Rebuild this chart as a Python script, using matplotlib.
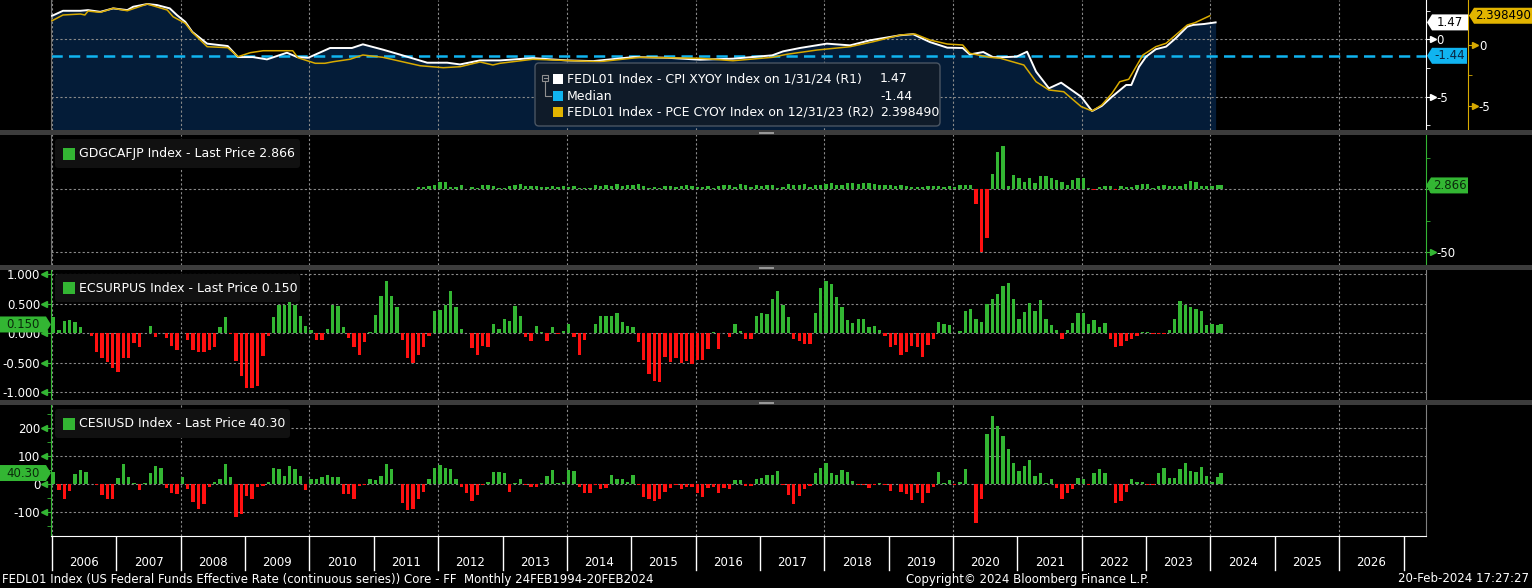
import matplotlib
matplotlib.use('Agg')
import matplotlib.pyplot as plt
import matplotlib.transforms as mtransforms
from matplotlib.patches import Rectangle, Polygon, FancyBboxPatch
from matplotlib.lines import Line2D

plt.rcParams['font.family'] = ['DejaVu Sans']

W, H = 1532, 588

# --- top panel: FEDL01 minus CPI (R1) and minus PCE (R2), decimal years ---
cpi_t = [2006.00, 2006.17, 2006.44, 2006.56, 2006.75, 2006.95, 2007.17, 2007.26, 2007.48, 2007.63,
         2007.83, 2007.94, 2008.07, 2008.18, 2008.41, 2008.73, 2008.89, 2009.12, 2009.34, 2009.65,
         2009.81, 2009.98, 2010.32, 2010.66, 2010.83, 2011.14, 2011.41, 2011.83, 2012.14, 2012.34,
         2012.65, 2012.96, 2013.47, 2014.00, 2014.41, 2015.03, 2015.56, 2016.07, 2016.58, 2017.19,
         2017.36, 2017.62, 2018.04, 2018.40, 2018.71, 2019.18, 2019.38, 2019.64, 2019.91, 2020.15,
         2020.26, 2020.47, 2020.62, 2020.73, 2020.99, 2021.15, 2021.29, 2021.49, 2021.68, 2021.99,
         2022.16, 2022.31, 2022.47, 2022.69, 2022.77, 2022.89, 2023.00, 2023.15, 2023.31, 2023.46,
         2023.64, 2023.73, 2023.90, 2024.08]
cpi_v = [2.04, 2.48, 2.48, 2.54, 2.39, 2.69, 2.54, 2.83, 3.07, 2.98,
         2.69, 2.11, 1.52, 0.64, -0.38, -0.59, -1.55, -1.55, -1.75, -1.17,
         -1.55, -1.61, -0.76, -0.76, -0.44, -0.90, -1.34, -2.04, -2.04, -2.19,
         -1.84, -1.84, -1.64, -1.84, -1.90, -1.55, -1.61, -1.78, -1.69, -1.40,
         -1.05, -0.76, -0.38, -0.53, -0.09, 0.35, 0.44, -0.24, -0.73, -0.76,
         -1.32, -1.11, -1.55, -1.57, -1.51, -1.08, -2.82, -4.27, -3.78, -5.00,
         -6.25, -5.81, -5.00, -3.98, -3.98, -2.39, -1.51, -0.87, -0.64, 0.09,
         1.10, 1.25, 1.33, 1.47]
pce_t = [2006.00, 2006.17, 2006.44, 2006.51, 2006.56, 2006.75, 2006.95, 2007.17, 2007.48, 2007.79,
         2007.88, 2008.07, 2008.18, 2008.41, 2008.73, 2008.89, 2009.08, 2009.28, 2009.50, 2009.74,
         2009.82, 2010.09, 2010.24, 2010.37, 2010.63, 2010.83, 2011.14, 2011.72, 2012.08, 2012.34,
         2012.65, 2012.85, 2012.96, 2013.47, 2014.51, 2015.14, 2016.07, 2016.58, 2017.19, 2017.42,
         2017.89, 2018.40, 2018.76, 2019.18, 2019.41, 2019.64, 2019.91, 2020.15, 2020.26, 2020.57,
         2020.73, 2021.10, 2021.29, 2021.49, 2021.72, 2021.99, 2022.16, 2022.31, 2022.47, 2022.59,
         2022.73, 2022.95, 2023.15, 2023.31, 2023.64, 2023.76, 2023.99]
pce_v = [1.99, 2.46, 2.54, 2.46, 2.78, 2.68, 3.01, 2.81, 3.36, 2.87,
         2.32, 1.78, 1.04, -0.14, -0.22, -0.96, -0.63, -0.47, -0.47, -0.47,
         -1.04, -1.50, -1.50, -1.37, -1.17, -0.82, -1.01, -1.70, -1.86, -1.78,
         -1.39, -1.64, -1.50, -1.17, -1.37, -1.01, -1.09, -1.29, -1.01, -0.76,
         -0.41, -0.14, 0.27, 0.82, 0.90, 0.41, 0.08, 0.00, -0.68, -1.01,
         -1.08, -1.64, -3.01, -3.69, -3.83, -5.05, -5.41, -4.92, -3.96, -3.01,
         -2.81, -0.82, -0.14, 0.14, 1.64, 1.83, 2.398]
cpi_median = -1.44
cpi_last = 1.47
pce_last = 2.398490

# --- monthly bars: first bar is end of Dec 2005, last one is 20 Feb 2024 ---
bar_t = [2006 + i / 12 for i in range(218)] + [2024 + 50 / 366]

jp_first = 68  # GDGCAFJP starts Aug 2011
jp_gdp = [1.3, 1.9, 2.6, 3.2, 5.3, 5.3, 1.9, 1.3, 3.2, 0.3, 1.3, 1.1, 3.2, 3.2, 2.4,
          0.8, 0.8, 2.1, 3.4, 4.0, 2.1, 2.1, 2.1, 1.3, 1.6,
          2.1, 1.6, 2.1, 1.3, 2.1, 0.8, 0.8, 0.8, 2.9, 2.1,
          2.9, 2.1, 3.7, 2.1, 2.9, 2.9, 4.0, 2.1, 1.1, 1.6,
          0.8, 2.1, 2.1, 1.3, 2.1, 2.9, 2.1, 1.3, 1.3, 2.1,
          0.8, 2.4, 2.9, 2.9, 1.3, 3.7, 2.9, 1.6, 2.9, 2.1,
          2.9, 2.9, 1.1, 1.6, 3.7, 2.9, 2.9, 3.7, 1.6, 2.9,
          2.9, 3.7, 4.8, 2.9, 2.9, 4.8, 4.8, 4.2, 4.8, 4.8,
          4.0, 2.9, 2.9, 2.9, 2.1, 2.9, 2.1, 1.3, 1.6, 1.3,
          2.1, 2.1, 2.1, 1.3, 2.1, 1.6, 2.9, 2.9,
          3.2,
          -11.9, -50.3, -38.6, 11.9, 29.6, 34.1, 2.6, 11.1, 9.0, 5.8,
          9.0, 4.5, 10.3, 10.3, 9.0, 7.1, 5.8, 3.2, 7.1, 8.5,
          8.5, 0.5, -0.5, 1.3, 2.4, 2.4, -0.5, 2.4, 1.3, 1.9,
          3.2, 4.0, 4.0, 1.1, 2.6, 3.2, 2.4, 2.4, 2.4, 4.0,
          6.6, 5.3, 2.4, 2.4, 2.6, 3.2, 2.866]

ecsurpus = [0.27, 0.06, 0.21, 0.23, 0.19, 0.10, 0.01, -0.04, -0.31, -0.42,
            -0.49, -0.59, -0.65, -0.42, -0.41, -0.16, -0.23, 0.00, 0.12, -0.07,
            0.00, -0.08, -0.21, -0.28, 0.00, -0.12, -0.28, -0.32, -0.32, -0.29,
            -0.23, 0.11, 0.27, -0.01, -0.47, -0.72, -0.92, -0.92, -0.89, -0.38,
            -0.04, 0.28, 0.48, 0.48, 0.71, 0.48, 0.29, 0.12, 0.06, -0.11,
            -0.12, 0.07, 0.48, 0.47, 0.11, -0.08, -0.24, -0.36, -0.14, 0.03,
            0.31, 0.63, 0.89, 0.63, 0.45, -0.11, -0.41, -0.51, -0.36, -0.24,
            -0.04, 0.38, 0.40, 0.48, 0.71, 0.45, 0.08, 0.00, -0.25, -0.36,
            -0.21, -0.23, 0.16, 0.07,
            0.24, 0.21, 0.47, 0.29, -0.07, -0.13, 0.12, 0.03, -0.13, 0.10,
            -0.01, 0.04, 0.16, -0.07, -0.37, -0.11, 0.01, 0.16, 0.29, 0.29,
            0.29, 0.35, 0.20, 0.12, 0.10, -0.15, -0.45, -0.69, -0.80, -0.83,
            -0.40, -0.49, -0.41, -0.50, -0.47, -0.52, -0.45, -0.45, -0.27, 0.02,
            -0.27, 0.00, -0.07, 0.16, 0.04, -0.10, -0.10, 0.29, 0.35, 0.33,
            0.58, 0.71, 0.48, 0.27, -0.10, -0.13, -0.18, -0.18, 0.35, 0.77,
            0.89, 0.84, 0.62, 0.44, 0.23, 0.18, 0.24, 0.24, 0.10, 0.12,
            0.06, -0.05, -0.24, -0.19, -0.37, -0.31, -0.21, -0.23, -0.40, -0.20,
            -0.10, 0.20, 0.16, 0.14, 0.01, 0.04, 0.38, 0.41, 0.24, 0.20,
            0.50, 0.58, 0.67,
            0.80, 0.86, 0.59, 0.24, 0.36, 0.51, 0.38, 0.56, 0.24, 0.14,
            0.06, -0.10, 0.06, 0.17, 0.34, 0.34, 0.15, 0.23, 0.10, 0.17,
            -0.10, -0.23, -0.21, -0.13, -0.10, -0.05, 0.02, 0.02, -0.01, -0.01,
            -0.01, 0.06, 0.24, 0.55, 0.48, 0.44, 0.41, 0.38, 0.14, 0.16,
            0.14, 0.150]

cesiusd = [45, -20, -52, -23, 37, 51, 45, 0, -3, -38,
           -52, -52, 22, 72, 27, 3, -22, 3, 40, 65,
           60, -12, -32, -35, 25, -18, -62, -88, -70, -10,
           8, 20, 72, 27, -115, -105, -40, -52, -10, -5,
           10, 57, 53, 30, 65, 53, 30, -20, 18, 18,
           27, 35, 25, 25, -35, -35, -52, -5, -2, 20,
           15, 30, 72, 53, 2, -68, -90, -88, -52, -27,
           18, 60, 68, 60, 55, 18, -10, -30, -58, -38,
           -2, 8, 45, 45,
           42, -26, 4, 19, -2, -11, -8, 4, 30, 51,
           6, 10, 51, 48, -11, -30, -30, -2, -18, -12,
           33, 19, 19, 10, 33, -2, -44, -52, -58, -52,
           -26, -12, -2, -18, -11, -11, -30, -44, -14, -8,
           -30, -14, -18, 15, 15, -5, -5, 19, 21, 33,
           33, 48, -2, -38, -70, -40, -18, -5, 39, 57,
           77, 39, 33, 51, 45, 12, -2, -2, -14, -2,
           4, -2, -23, 1, -26, -35, -56, -30, -65, -30,
           -8, 43, 4, 15, -2, 10, 54, 0, -139, -52,
           180, 244, 208,
           173, 126, 75, 48, 65, 87, 30, 39, 4, 19,
           -12, -54, -30, -17, 21, 18, -2, 39, 55, 42,
           0, -68, -58, -26, 19, 10, 10, -2, -2, 42,
           57, 21, 24, 55, 75, 48, 45, 61, 30, 10,
           25, 40.30]

years = list(range(2006, 2027))

# colours
GRID = '#8a8a8a'
NAVY = '#041c38'
CYAN = '#10b4f0'
YEL = '#d8aa00'
GREEN = '#33b633'
RED = '#ff1010'
SEP = '#3c3c3c'

fig = plt.figure(figsize=(W / 100, H / 100), dpi=100, facecolor='black')
ID = mtransforms.IdentityTransform()
X0, X1 = 51, 1425.5
XLIM = (2005.984, 2027.341)
PT = 0.72  # points per pixel


def D(y):
    # top-origin pixel row -> display y
    return H - y


def panel(top, bot):
    ax = fig.add_axes([X0 / W, 1 - bot / H, (X1 - X0) / W, (bot - top) / H])
    ax.set_facecolor('black')
    ax.set_xlim(*XLIM)
    ax.set_xticks([])
    for s in ax.spines.values():
        s.set_visible(False)
    for yr in range(2006, 2027, 2):
        ax.axvline(yr, color=GRID, lw=0.8, ls=(0, (2, 2)), zorder=1.5)
    return ax


def hgrid(ax, vals):
    for v in vals:
        ax.axhline(v, color=GRID, lw=0.8, ls=(0, (2, 2)), zorder=1.5)


def arrows(ax, vals, xa, side, color):
    tr = mtransforms.offset_copy(ax.get_yaxis_transform(), fig=fig, x=side * 7, y=0, units='dots')
    ax.plot([xa] * len(vals), vals, ls='none', marker='>' if side > 0 else '<',
            ms=4, color=color, transform=tr, clip_on=False, zorder=6)


def tag(ax, value, x_tip, w, side, fc, text, tc, h=16):
    yc = ax.transData.transform((XLIM[0], value))[1]
    a = 5
    if side == 'left':
        pts = [(x_tip, yc), (x_tip + a, yc + h / 2), (x_tip + w, yc + h / 2),
               (x_tip + w, yc - h / 2), (x_tip + a, yc - h / 2)]
        cx = x_tip + a + (w - a) / 2
    else:
        pts = [(x_tip, yc), (x_tip - a, yc + h / 2), (x_tip - w, yc + h / 2),
               (x_tip - w, yc - h / 2), (x_tip - a, yc - h / 2)]
        cx = x_tip - a - (w - a) / 2
    fig.add_artist(Polygon(pts, closed=True, transform=ID, fc=fc, ec='none', zorder=5))
    fig.text(cx, yc, text, transform=ID, ha='center', va='center', color=tc, fontsize=8.5, zorder=6)


def bars(ax, t, vals):
    cols = [GREEN if v >= 0 else RED for v in vals]
    ax.bar(t, vals, width=0.052, align='edge', color=cols, zorder=2)


def small_legend(y_top, y_bot, x_right, text):
    fig.add_artist(FancyBboxPatch((55, D(y_bot)), x_right - 55, y_bot - y_top,
                                  boxstyle='round,pad=0,rounding_size=3', transform=ID,
                                  fc='#111111', ec='none', zorder=4))
    yc = D((y_top + y_bot) / 2)
    fig.add_artist(Rectangle((63, yc - 6), 12, 12, transform=ID, fc=GREEN, ec='none', zorder=5))
    fig.text(79, yc, text, transform=ID, ha='left', va='center', color='white', fontsize=9, zorder=6)


# ---------------- panel 1 ----------------
ax1 = panel(0, 130)
ax1.set_ylim(-7.90, 3.42)
ax1.fill_between(cpi_t, cpi_v, -7.90, color=NAVY, lw=0, zorder=1)
hgrid(ax1, [0, -5])
ax1.axhline(cpi_median, color=CYAN, lw=1.8, ls=(0, (4.5, 2.5)), zorder=2.5)
ax1.plot(cpi_t, cpi_v, color='white', lw=1.4, zorder=3)
ax1b = ax1.twinx()
ax1b.set_ylim(-6.97, 3.69)
ax1b.set_xticks([])
ax1b.plot(pce_t, pce_v, color=YEL, lw=1.1, zorder=3)
for s in ax1b.spines.values():
    s.set_visible(False)
yel_pos = (1468 - X0) / (X1 - X0)
ax1b.spines['right'].set_visible(True)
ax1b.spines['right'].set_position(('axes', yel_pos))
ax1b.spines['right'].set_color(YEL)
ax1b.yaxis.tick_right()
ax1b.set_yticks([0, -5])
ax1b.set_yticklabels(['0', '-5'])
ax1b.set_yticks([2.5, -2.5], minor=True)
ax1b.tick_params(axis='y', which='major', colors=YEL, labelcolor='white', length=8 * PT, labelsize=8.5, pad=2)
ax1b.tick_params(axis='y', which='minor', colors=YEL, length=4 * PT)
arrows(ax1b, [0, -5], yel_pos, 1, YEL)

ax1.yaxis.tick_right()
ax1.spines['right'].set_visible(True)
ax1.spines['right'].set_color('white')
ax1.spines['left'].set_visible(True)
ax1.spines['left'].set_color('#707070')
ax1.set_yticks([0, -5])
ax1.set_yticklabels(['0', '-5'])
ax1.set_yticks([2.5, -2.5, -7.5], minor=True)
ax1.tick_params(axis='y', which='major', colors='white', labelcolor='white', length=8 * PT, labelsize=8.5, pad=2)
ax1.tick_params(axis='y', which='minor', colors='white', length=4 * PT)
arrows(ax1, [0, -5], 1.0, 1, 'white')

tag(ax1, cpi_last, 1427, 41, 'left', 'white', '1.47', 'black')
tag(ax1, cpi_median, 1427, 40, 'left', CYAN, '-1.44', '#0a2440')
tag(ax1b, pce_last, 1469, 64, 'left', '#e2b400', '2.398490', 'black')

# legend of panel 1
fig.add_artist(FancyBboxPatch((535, D(126)), 405, 63, boxstyle='round,pad=0,rounding_size=4',
                              transform=ID, fc='#0f1b29', ec='#4a5562', lw=1, zorder=4))
rows = [(79, 'white', 'FEDL01 Index - CPI XYOY Index on 1/31/24 (R1)', '1.47'),
        (96, CYAN, 'Median', '-1.44'),
        (112, '#e2b400', 'FEDL01 Index - PCE CYOY Index on 12/31/23 (R2)', '2.398490')]
for yr_, col, lab, val in rows:
    yc = D(yr_)
    fig.add_artist(Rectangle((553, yc - 5), 10, 10, transform=ID, fc=col, ec='none', zorder=5))
    fig.text(567, yc, lab, transform=ID, ha='left', va='center', color='white', fontsize=9, zorder=6)
    fig.text(880, yc, val, transform=ID, ha='left', va='center', color='white', fontsize=9, zorder=6)
fig.add_artist(Rectangle((542, D(81)), 6, 6, transform=ID, fc='none', ec='#909090', lw=0.8, zorder=5))
fig.add_artist(Line2D([543.5, 546.5], [D(78), D(78)], transform=ID, color='#909090', lw=0.8, zorder=5))
fig.add_artist(Line2D([545, 545, 551], [D(81), D(96), D(96)], transform=ID, color='#909090', lw=0.8, zorder=5))

# ---------------- panel 2 ----------------
ax2 = panel(134.5, 265)
ax2.set_ylim(-60.3, 43.3)
hgrid(ax2, [0, -50])
bars(ax2, bar_t[jp_first:], jp_gdp)
ax2.yaxis.tick_right()
ax2.spines['right'].set_visible(True)
ax2.spines['right'].set_color(GREEN)
ax2.spines['left'].set_visible(True)
ax2.spines['left'].set_color('#707070')
ax2.set_yticks([0, -50])
ax2.set_yticklabels(['', '-50'])
ax2.set_yticks([25, -25], minor=True)
ax2.tick_params(axis='y', which='major', colors=GREEN, labelcolor='white', length=8 * PT, labelsize=8.5, pad=2)
ax2.tick_params(axis='y', which='minor', colors=GREEN, length=4 * PT)
arrows(ax2, [0, -50], 1.0, 1, GREEN)
tag(ax2, jp_gdp[-1], 1426, 42, 'left', GREEN, '2.866', '#0b2a0b')
small_legend(139, 168, 300, 'GDGCAFJP Index - Last Price 2.866')

# ---------------- panel 3 ----------------
ax3 = panel(269, 400)
ax3.set_ylim(-1.13, 1.09)
hgrid(ax3, [1, 0.5, 0, -0.5, -1])
bars(ax3, bar_t, ecsurpus)
ax3.spines['left'].set_visible(True)
ax3.spines['left'].set_color(GREEN)
ax3.spines['right'].set_visible(True)
ax3.spines['right'].set_color('#808080')
ax3.set_yticks([1, 0.5, 0, -0.5, -1])
ax3.set_yticklabels(['1.000', '0.500', '0.000', '-0.500', '-1.000'])
ax3.tick_params(axis='y', which='major', colors=GREEN, labelcolor='white', length=8 * PT, labelsize=8.5, pad=2)
arrows(ax3, [1, 0.5, 0, -0.5, -1], 0.0, -1, GREEN)
tag(ax3, ecsurpus[-1], 51, 51, 'right', GREEN, '0.150', '#0b2a0b')
small_legend(274, 302, 300, 'ECSURPUS Index - Last Price 0.150')

# ---------------- panel 4 ----------------
ax4 = panel(404, 536)
ax4.set_ylim(-184.6, 286.8)
hgrid(ax4, [200, 100, 0, -100])
bars(ax4, bar_t, cesiusd)
ax4.spines['left'].set_visible(True)
ax4.spines['left'].set_color(GREEN)
ax4.spines['right'].set_visible(True)
ax4.spines['right'].set_color('#808080')
ax4.spines['bottom'].set_visible(True)
ax4.spines['bottom'].set_color('white')
ax4.set_yticks([200, 100, 0, -100])
ax4.set_yticklabels(['200', '100', '0', '-100'])
ax4.set_yticks([250, 150, 50, -50, -150], minor=True)
ax4.tick_params(axis='y', which='major', colors=GREEN, labelcolor='white', length=8 * PT, labelsize=8.5, pad=2)
ax4.tick_params(axis='y', which='minor', colors=GREEN, length=4 * PT)
arrows(ax4, [200, 100, 0, -100], 0.0, -1, GREEN)
tag(ax4, cesiusd[-1], 51, 51, 'right', GREEN, '40.30', '#0b2a0b')
small_legend(409, 438, 290, 'CESIUSD Index - Last Price 40.30')

# ---------------- year strip ----------------
axd = fig.add_axes([X0 / W, 1 - 572 / H, (X1 - X0) / W, 36 / H])
axd.set_facecolor('black')
axd.set_xlim(*XLIM)
axd.set_ylim(0, 36)
axd.axis('off')
for yr in years + [2027]:
    axd.plot([yr, yr], [2, 36], color='white', lw=1)
for yr in years:
    axd.text(yr + 0.5, 10, str(yr), ha='center', va='center', color='white', fontsize=8.5)

# panel separators
for y0 in [130, 265, 400]:
    fig.add_artist(Rectangle((0, D(y0 + 4.5)), W, 4.5, transform=ID, fc=SEP, ec='none', zorder=7))
    for dy in [1.5, 3.2]:
        fig.add_artist(Line2D([759, 773], [D(y0 + dy), D(y0 + dy)], transform=ID,
                              color='#9a9a9a', lw=0.7, zorder=8))

# footer
fig.text(2, D(579), 'FEDL01 Index (US Federal Funds Effective Rate (continuous series)) Core - FF  Monthly 24FEB1994-20FEB2024',
         transform=ID, ha='left', va='center', color='white', fontsize=8.5)
fig.text(906, D(579), 'Copyright\u00a9 2024 Bloomberg Finance L.P.', transform=ID,
         ha='left', va='center', color='white', fontsize=8.5)
fig.text(1529, D(579), '20-Feb-2024 17:27:27', transform=ID, ha='right', va='center',
         color='white', fontsize=8.5)

fig.savefig('out.png', dpi=100, facecolor='black')
